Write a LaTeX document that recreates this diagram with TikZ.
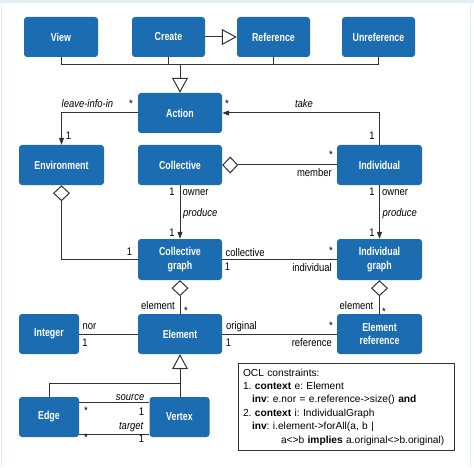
\documentclass[tikz,border=0pt]{standalone}
\usepackage{fontspec}
\setmainfont{Liberation Sans}
\newfontfamily\boxfont{Liberation Sans}[FakeStretch=0.77]
\newfontfamily\lblfont{Liberation Sans}[FakeStretch=0.86]
\usetikzlibrary{arrows.meta}
\definecolor{umlblue}{RGB}{28,108,177}
\definecolor{umlline}{RGB}{50,50,50}
\definecolor{framecol}{RGB}{226,239,243}
\frenchspacing

\begin{document}
\begin{tikzpicture}[x=1pt, y=-1pt]
    \tikzset{cls/.style={rectangle, rounded corners=3pt, fill=umlblue, text=white, font=\boxfont\bfseries\fontsize{11.5}{13.5}\selectfont, align=center, minimum width=84pt, minimum height=40pt, inner sep=0pt}}
    \tikzset{lbl/.style={font=\lblfont\fontsize{11}{12}\selectfont, inner sep=0pt}}
    \tikzset{lbli/.style={lbl, font=\lblfont\fontsize{11}{12}\selectfont\itshape}}
    \tikzset{assoc/.style={draw=umlline, line width=1pt}}
    \tikzset{gen/.style={assoc, -{Triangle[open, length=15pt, width=16pt]}}}
    \tikzset{agg/.style={assoc, -{Diamond[open, length=16pt, width=17pt]}}}
    \tikzset{nav/.style={assoc, -{Triangle[length=7pt, width=5pt]}}}
    \useasboundingbox (0,0) rectangle (474,468);
    \fill[framecol] (0,0) rectangle (474,3);
    \draw[framecol, line width=1pt] (1,3) -- (1,466);
    \draw[framecol, line width=1pt] (470,3) -- (470,466);
    % classes
    \node[cls, minimum width=74pt] (view) at (61,37) {View};
    \node[cls, minimum width=73pt] (create) at (168.5,37) {Create};
    \node[cls, minimum width=73pt] (reference) at (273.5,37) {Reference};
    \node[cls, minimum width=73pt] (unreference) at (378.5,37) {Unreference};
    \node[cls] (action) at (180,113) {Action};
    \node[cls, minimum width=85pt] (environment) at (61.5,165) {Environment};
    \node[cls] (collective) at (180,165) {Collective};
    \node[cls, minimum width=85pt] (individual) at (379.5,165) {Individual};
    \node[cls, minimum height=41pt] (cgraph) at (180,259.5) {Collective\\graph};
    \node[cls, minimum width=85pt, minimum height=41pt] (igraph) at (379.5,259.5) {Individual\\graph};
    \node[cls, minimum width=60pt] (integer) at (49,334) {Integer};
    \node[cls] (element) at (180,334) {Element};
    \node[cls, minimum width=85pt] (elemref) at (379.5,334) {Element\\reference};
    \node[cls, minimum width=60pt] (edge) at (49,417) {Edge};
    \node[cls, minimum width=60pt] (vertex) at (179.5,417) {Vertex};
    % constraints
    \node[draw=umlline, line width=1pt, anchor=north west, minimum width=216pt, minimum height=87pt, text width=207pt, inner xsep=4.5pt, inner ysep=5pt, align=left, font=\fontsize{10.2}{13.4}\selectfont] (ocl) at (238,363) {OCL constraints:\\
      1. \textbf{context} e: Element\\
      \hspace*{9pt}\textbf{inv}: e.nor = e.reference->size() \textbf{and}\\
      2. \textbf{context} i: IndividualGraph\\
      \hspace*{9pt}\textbf{inv}: i.element->forAll(a, b \textbar\\
      \hspace*{38pt}a<>b \textbf{implies} a.original<>b.original)};
    % generalizations
    \coordinate (topbus) at (180,65);
    \draw[assoc] (view.south) |- (topbus);
    \draw[assoc] (unreference.south) |- (topbus);
    \draw[assoc] (create.south) -- (create.south |- topbus);
    \draw[assoc] (reference.south) -- (reference.south |- topbus);
    \draw[gen] (topbus) -- (action.north);
    \draw[gen] (create.east) -- (reference.west);
    \coordinate (genjoin) at (180,383);
    \draw[gen] (genjoin) -- (element.south);
    \draw[assoc] (vertex.north -| genjoin) -- (genjoin);
    \draw[assoc] (edge.north) |- (genjoin);
    % associations
    \draw[nav] (action.west) -| (environment.north);
    \draw[nav] (individual.north) |- (action.east);
    \draw[agg] (individual.west) -- (collective.east);
    \draw[agg] (cgraph.west) -| (environment.south);
    \draw[nav] (collective.south) -- (cgraph.north);
    \draw[nav] (individual.south) -- (igraph.north);
    \draw[assoc] (cgraph.east) -- (igraph.west);
    \draw[agg] (element.north) -- (cgraph.south);
    \draw[agg] (elemref.north) -- (igraph.south);
    \draw[assoc] (integer.east) -- (element.west);
    \draw[assoc] (element.east) -- (elemref.west);
    \draw[assoc] ([yshift=15pt]edge.east) -- ([yshift=15pt]vertex.west);
    \draw[assoc] ([yshift=-17pt]edge.east) -- ([yshift=-17pt]vertex.west);
    % labels
    \node[lbli, anchor=base west] (lleave) at (61.5,108) {leave-info-in};
    \node[lbl, anchor=base] (mactl) at (131,108) {*};
    \node[lbl, anchor=base] (menv) at (68.5,140) {1};
    \node[lbl, anchor=base] (mactr) at (227,108) {*};
    \node[lbli, anchor=base] (ltake) at (304,108) {take};
    \node[lbl, anchor=base] (mtake) at (372,140) {1};
    \node[lbl, anchor=base] (mmember) at (331,159) {*};
    \node[lbl, anchor=base east] (rmember) at (332,177) {member};
    \node[lbl, anchor=base] (menvagg) at (129.5,255) {1};
    \node[lbl, anchor=base] (mcowner) at (172,196) {1};
    \node[lbl, anchor=base west] (rcowner) at (182.5,196) {owner};
    \node[lbli, anchor=base west] (lcproduce) at (183,216.5) {produce};
    \node[lbl, anchor=base] (mcgraph) at (172,236) {1};
    \node[lbl, anchor=base] (miowner) at (372,196) {1};
    \node[lbl, anchor=base west] (riowner) at (382,196) {owner};
    \node[lbli, anchor=base west] (liproduce) at (382.5,216.5) {produce};
    \node[lbl, anchor=base] (migraph) at (372,236) {1};
    \node[lbl, anchor=base west] (rcoll) at (225.5,256) {collective};
    \node[lbl, anchor=base] (mcoll) at (227.5,270.5) {1};
    \node[lbl, anchor=base] (mindiv) at (331,254.5) {*};
    \node[lbl, anchor=base east] (rindiv) at (332,271.5) {individual};
    \node[lbl, anchor=base east] (relem) at (175,309.3) {element};
    \node[lbl, anchor=base] (melem) at (186,314) {*};
    \node[lbl, anchor=base east] (relemr) at (373.5,309.3) {element};
    \node[lbl, anchor=base] (melemr) at (384,315) {*};
    \node[lbl, anchor=base west] (rnor) at (82.3,329.3) {nor};
    \node[lbl, anchor=base] (mnor) at (85,346.7) {1};
    \node[lbl, anchor=base west] (rorig) at (226,329.3) {original};
    \node[lbl, anchor=base] (morig) at (228.5,346.7) {1};
    \node[lbl, anchor=base] (mref) at (331,329) {*};
    \node[lbl, anchor=base east] (rref) at (332,346.7) {reference};
    \node[lbli, anchor=base east] (lsource) at (144.5,400.7) {source};
    \node[lbl, anchor=base] (msrcedge) at (86,414) {*};
    \node[lbl, anchor=base] (msrcvert) at (141.5,415) {1};
    \node[lbli, anchor=base east] (ltarget) at (143.5,429) {target};
    \node[lbl, anchor=base] (mtgtedge) at (86,441.5) {*};
    \node[lbl, anchor=base] (mtgtvert) at (141.5,442.7) {1};
\end{tikzpicture}
\end{document}
